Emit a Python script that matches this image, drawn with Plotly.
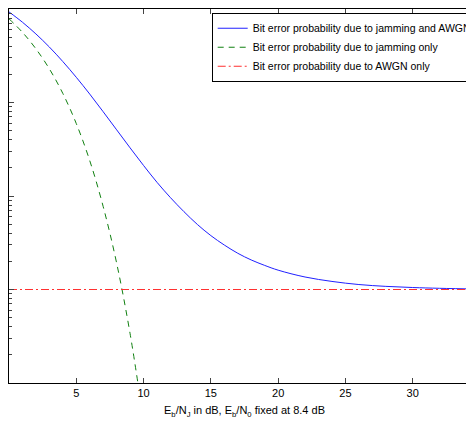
import plotly.graph_objects as go

x_comb = [0,1,2,3,4,5,6,7,8,9,10,11,12,13,14,15,16,17,18,19,20,22,24,26,28,30,32,35]
p_comb = [0.0931,0.0722,0.0541,0.0392,0.0274,0.0186,0.0123,0.00796,0.0051,0.00327,0.00212,0.0014,
          0.00096,0.00068,0.000496,0.000377,0.000299,0.000244,0.000207,0.000181,0.000161,0.000136,
          0.000122,0.000113,0.000108,0.000105,0.000103,0.000101]
x_jam = [0,1,2,3,4,5,6,7,8,9,10]
p_jam = [0.0786,0.0563,0.0375,0.0229,0.0125,0.00595,0.00239,0.00077,0.000191,3.36e-5,3.87e-6]
x_awgn = [0,35]
p_awgn = [1.0e-4,1.0e-4]

fig = go.Figure()
fig.add_trace(go.Scatter(x=x_comb, y=p_comb, mode="lines", line=dict(color="#2020ff", width=1, shape="spline"),
                         name="Bit error probability due to jamming and AWGN"))
fig.add_trace(go.Scatter(x=x_jam, y=p_jam, mode="lines", line=dict(color="#108010", width=1, dash="6px,5px", shape="spline"),
                         name="Bit error probability due to jamming only"))
fig.add_trace(go.Scatter(x=x_awgn, y=p_awgn, mode="lines", line=dict(color="#ff3030", width=1.2, dash="8px,3px,2px,3px"),
                         name="Bit error probability due to AWGN only"))

fig.update_layout(
    width=474, height=424, paper_bgcolor="white", plot_bgcolor="white",
    margin=dict(l=1, r=2, t=1, b=49, autoexpand=False),
    font=dict(family="Liberation Sans, Arial", size=11, color="black"),
    legend=dict(x=0.993, y=0.99, xanchor="right", yanchor="top", bgcolor="white",
                bordercolor="black", borderwidth=1, font=dict(size=10.5), tracegroupgap=0,
                itemwidth=30),
    xaxis=dict(range=[0, 35], tickvals=[0,5,10,15,20,25,30,35], ticks="inside", ticklen=5,
               showline=True, linecolor="black", mirror="ticks", showgrid=False, zeroline=False,
               automargin=False,
               title=dict(text="E<sub>b</sub>/N<sub>J</sub> in dB, E<sub>b</sub>/N<sub>0</sub> fixed at 8.4 dB",
                          standoff=8, font=dict(size=11))),
    yaxis=dict(type="log", range=[-5, -1], ticks="inside", ticklen=5, showticklabels=False,
               showline=True, linecolor="black", mirror="ticks", showgrid=False, zeroline=False,
               automargin=False,
               dtick=1, minor=dict(ticks="inside", ticklen=3, dtick="D1", showgrid=False)),
)
fig.write_html("out.html")
